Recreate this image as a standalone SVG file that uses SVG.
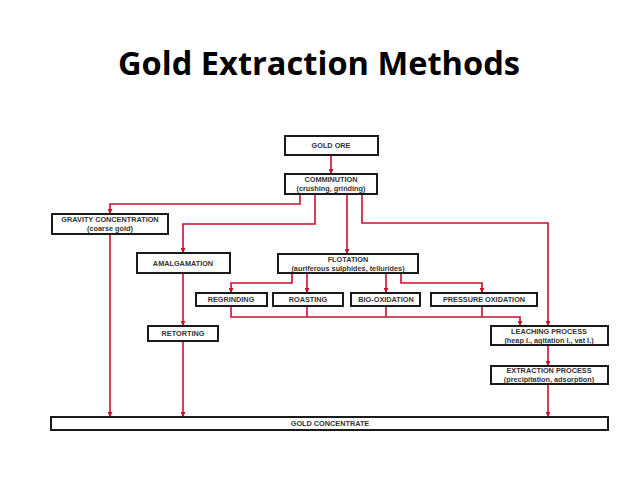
<svg xmlns="http://www.w3.org/2000/svg" width="638" height="478" viewBox="0 0 638 478">
<style>
.b{fill:#fff;stroke:#1a1a1a;stroke-width:2}
.t{font-family:"Liberation Sans",Arial,sans-serif;font-weight:bold;font-size:7.3px;fill:#333;text-anchor:middle}
.c{fill:none;stroke:#c8102e;stroke-width:1.6}
</style>
<defs><marker id="a" viewBox="0 0 10 10" refX="10" refY="5" markerWidth="5" markerHeight="5" orient="auto" markerUnits="userSpaceOnUse"><path d="M0,0L10,5L0,10Z" fill="#c8102e"/></marker></defs>
<rect width="638" height="478" fill="#fff"/>
<text x="319" y="75" font-family="Open Sans,Liberation Sans,Arial,sans-serif" font-weight="bold" font-size="32" text-anchor="middle" fill="#000" textLength="402" lengthAdjust="spacingAndGlyphs">Gold Extraction Methods</text>
<g id="connectors">
<path class="c" d="M331,155V174" marker-end="url(#a)"/>
<path class="c" d="M300,194V204H110V214" marker-end="url(#a)"/>
<path class="c" d="M315,194V224H183V253" marker-end="url(#a)"/>
<path class="c" d="M347,194V254" marker-end="url(#a)"/>
<path class="c" d="M362,194V223H548V326" marker-end="url(#a)"/>
<path class="c" d="M110,234V417" marker-end="url(#a)"/>
<path class="c" d="M183,273V326" marker-end="url(#a)"/>
<path class="c" d="M183,341V417" marker-end="url(#a)"/>
<path class="c" d="M292,273V283H231V293" marker-end="url(#a)"/>
<path class="c" d="M307,273V293" marker-end="url(#a)"/>
<path class="c" d="M386,273V293" marker-end="url(#a)"/>
<path class="c" d="M401,273V283H482V293" marker-end="url(#a)"/>
<path class="c" d="M231,306V317H520V326" marker-end="url(#a)"/>
<path class="c" d="M307,306V317M386,306V317M482,306V317"/>
<path class="c" d="M548,345V366" marker-end="url(#a)"/>
<path class="c" d="M548,384V417" marker-end="url(#a)"/>
</g>
<g id="gold-ore"><rect class="b" x="285" y="136" width="93" height="19"/><text class="t" x="331" y="148">GOLD ORE</text></g>
<g id="comminution"><rect class="b" x="285" y="174" width="92" height="20"/><text class="t" x="331" y="182">COMMINUTION</text><text class="t" x="331" y="191">(crushing, grinding)</text></g>
<g id="gravity"><rect class="b" x="52" y="214" width="116" height="20"/><text class="t" x="110" y="222">GRAVITY CONCENTRATION</text><text class="t" x="110" y="231">(coarse gold)</text></g>
<g id="amalgamation"><rect class="b" x="137" y="253" width="93" height="20"/><text class="t" x="183" y="266">AMALGAMATION</text></g>
<g id="flotation"><rect class="b" x="278" y="254" width="140" height="19"/><text class="t" x="348" y="262">FLOTATION</text><text class="t" x="348" y="271">(auriferous sulphides, tellurides)</text></g>
<g id="regrinding"><rect class="b" x="196" y="293" width="71" height="13"/><text class="t" x="231" y="302">REGRINDING</text></g>
<g id="roasting"><rect class="b" x="273" y="293" width="70" height="13"/><text class="t" x="308" y="302">ROASTING</text></g>
<g id="bio-oxidation"><rect class="b" x="351" y="293" width="69" height="13"/><text class="t" x="386" y="302">BIO-OXIDATION</text></g>
<g id="pressure-oxidation"><rect class="b" x="431" y="293" width="106" height="13"/><text class="t" x="484" y="302">PRESSURE OXIDATION</text></g>
<g id="retorting"><rect class="b" x="148" y="326" width="70" height="15"/><text class="t" x="183" y="336">RETORTING</text></g>
<g id="leaching"><rect class="b" x="491" y="326" width="117" height="19"/><text class="t" x="549" y="334">LEACHING PROCESS</text><text class="t" x="549" y="343">(heap l., agitation l., vat l.)</text></g>
<g id="extraction"><rect class="b" x="491" y="366" width="117" height="18"/><text class="t" x="549" y="373">EXTRACTION PROCESS</text><text class="t" x="549" y="382">(precipitation, adsorption)</text></g>
<g id="gold-concentrate"><rect class="b" x="51" y="417" width="557" height="13"/><text class="t" x="330" y="426">GOLD CONCENTRATE</text></g>
</svg>
